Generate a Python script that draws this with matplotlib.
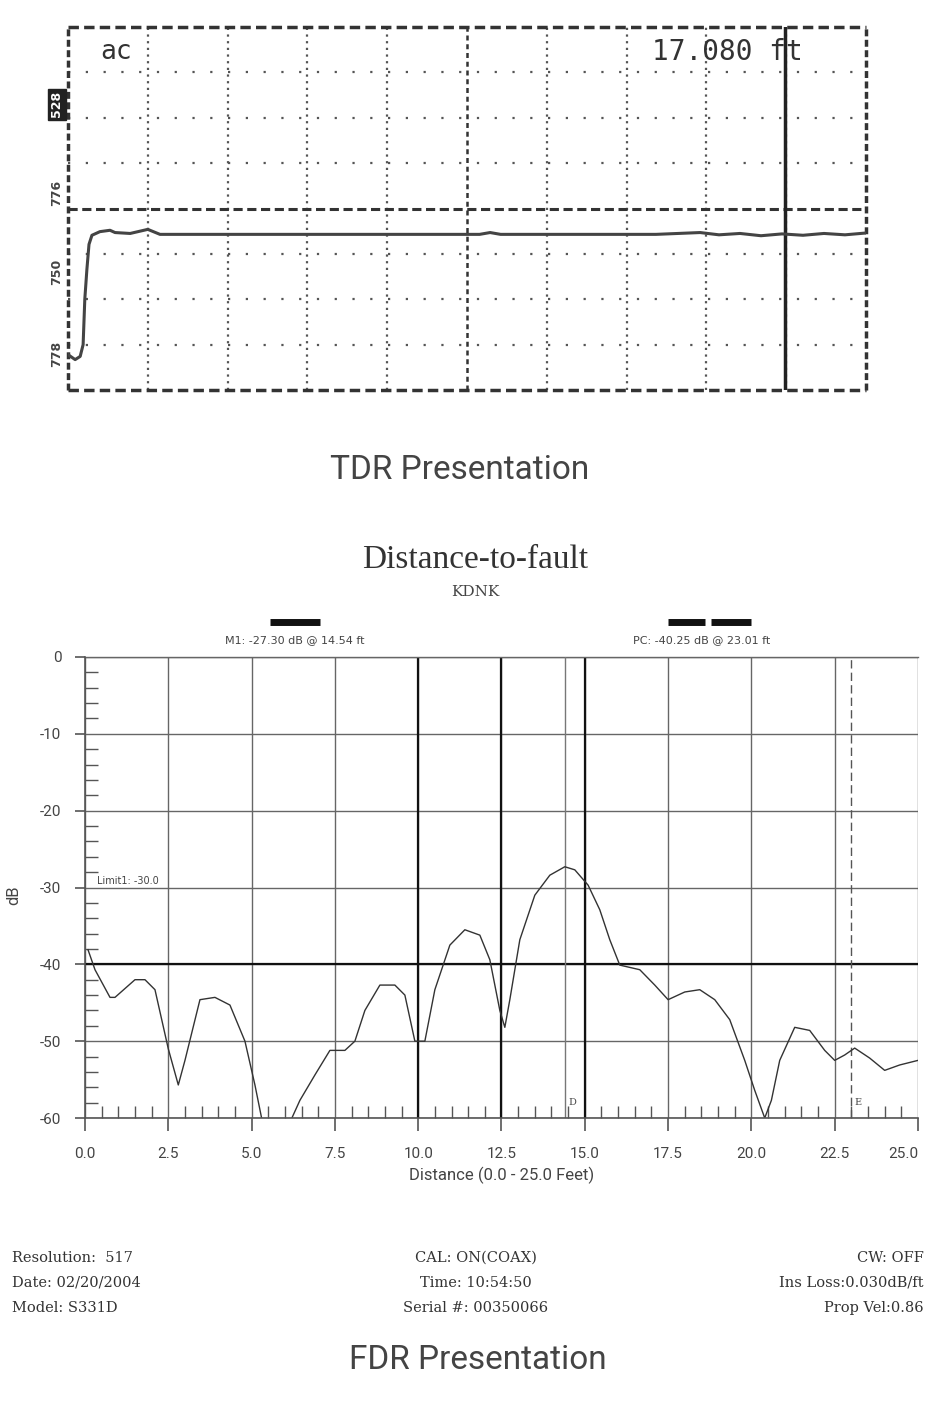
import numpy as np
import matplotlib
matplotlib.use("Agg")
import matplotlib.pyplot as plt
import matplotlib.transforms as mtrans

plt.rcParams["axes.unicode_minus"] = False

# ---- TDR trace (ft, milli-rho) ----
tdr_x = [0.0, 0.17, 0.29, 0.36, 0.40, 0.45, 0.50, 0.57, 0.76, 1.0, 1.12, 1.48, 1.9, 2.19,
         4.0, 6.0, 8.0, 9.8, 10.05, 10.3, 12.0, 14.0, 15.05, 15.5, 16.0, 16.5, 17.0,
         17.5, 18.0, 18.5, 19.0]
tdr_y = [-322, -333, -326, -300, -200, -134, -79, -59, -51, -48, -53, -55, -46, -57,
         -57, -57, -57, -57, -53, -57, -57, -57, -53, -58, -55, -60, -56, -59, -55, -58, -54]
tdr_cursor = 17.080
tdr_xmax = 19.0

# ---- FDR trace (ft, dB) ----
fdr_x = [0.09, 0.3, 0.75, 0.9, 1.5, 1.8, 2.1, 2.5, 2.8, 3.0, 3.45, 3.9, 4.35, 4.8, 5.1,
         5.3, 5.6, 6.0, 6.45, 6.9, 7.35, 7.8, 8.1, 8.4, 8.85, 9.3, 9.6, 9.9, 10.2, 10.5,
         10.95, 11.4, 11.85, 12.15, 12.45, 12.6, 12.75, 13.05, 13.5, 13.95, 14.4, 14.7,
         15.1, 15.45, 15.75, 16.05, 16.65, 17.1, 17.5, 18.0, 18.45, 18.9, 19.35, 19.8,
         20.1, 20.4, 20.6, 20.85, 21.3, 21.75, 22.2, 22.5, 22.8, 23.1, 23.55, 24.0,
         24.45, 25.0]
fdr_y = [-38.1, -40.7, -44.3, -44.3, -42.0, -42.0, -43.3, -51.0, -55.7, -52.5, -44.6,
         -44.3, -45.3, -50.0, -55.7, -60.0, -62.0, -62.0, -57.7, -54.4, -51.2, -51.2,
         -50.0, -46.0, -42.7, -42.7, -44.0, -50.0, -50.0, -43.3, -37.5, -35.5, -36.2,
         -39.4, -46.0, -48.2, -44.6, -36.8, -31.0, -28.4, -27.3, -27.7, -29.7, -32.9,
         -36.8, -40.1, -40.7, -42.7, -44.6, -43.6, -43.3, -44.6, -47.2, -52.5, -56.4,
         -60.0, -57.7, -52.5, -48.2, -48.6, -51.2, -52.5, -51.8, -50.9, -52.2, -53.8,
         -53.1, -52.5]
fdr_xticks = [0.0, 2.5, 5.0, 7.5, 10.0, 12.5, 15.0, 17.5, 20.0, 22.5, 25.0]
fdr_yticks = [0, -10, -20, -30, -40, -50, -60]
limit_db = -40
marker_d = 14.4
marker_e = 23.0
bold_lines = [10.0, 12.5, 15.0]

left_info = ["Resolution:  517", "Date: 02/20/2004", "Model: S331D"]
mid_info = ["CAL: ON(COAX)", "Time: 10:54:50", "Serial #: 00350066"]
right_info = ["CW: OFF", "Ins Loss:0.030dB/ft", "Prop Vel:0.86"]

W, H = 928, 1407
fig = plt.figure(figsize=(W / 100, H / 100), dpi=100)


def fx(px):
    return px / W


def fy(py):
    return 1 - py / H


# ================= TDR =================
ax1 = fig.add_axes([fx(68), fy(390), fx(866) - fx(68), fy(27) - fy(390)])
ax1.set_xlim(0, tdr_xmax)
ax1.set_ylim(-400, 400)
for s in ax1.spines.values():
    s.set_visible(False)
ax1.set_xticks([])
ax1.set_yticks([])
step = tdr_xmax / 10
for i in range(1, 10):
    if i == 5:
        ax1.axvline(i * step, color="#333", lw=1.8, ls=(0, (2, 1.5)))
    else:
        ax1.axvline(i * step, color="#555", lw=1.6, ls=(0, (1, 2)))
for j in range(-3, 4):
    if j == 0:
        ax1.axhline(0, color="#333", lw=2.2, ls=(0, (3, 1.5)))
    else:
        ax1.axhline(j * 100, color="#555", lw=1.6, ls=(0, (1, 7)))
for v in (-400, 400):
    ax1.axhline(v, color="#333", lw=2.5, ls=(0, (3, 1.5)), clip_on=False)
for v in (0, tdr_xmax):
    ax1.axvline(v, color="#333", lw=2.5, ls=(0, (2, 1)), clip_on=False)
ax1.axvline(tdr_cursor, color="#222", lw=2.5)
ax1.plot(tdr_x, tdr_y, color="#444", lw=2.2)
ax1.text(0.04, 0.93, "ac", transform=ax1.transAxes, fontsize=19, color="#333",
         family="DejaVu Sans Mono", va="center")
ax1.text(0.732, 0.93, f"{tdr_cursor:.3f} ft", transform=ax1.transAxes, fontsize=20,
         color="#333", family="DejaVu Sans Mono", va="center")
yt = mtrans.blended_transform_factory(ax1.transAxes, ax1.transData)
for yy, lab in [(-320, "778"), (-140, "750"), (35, "776")]:
    ax1.text(-0.014, yy, lab, transform=yt, rotation=90, fontsize=9, color="#444",
             ha="center", va="center", weight="bold")
ax1.text(-0.014, 230, "528", transform=yt, rotation=90, fontsize=9, color="white",
         ha="center", va="center", weight="bold",
         bbox=dict(boxstyle="square,pad=0.2", fc="#222", ec="#222"))

fig.text(fx(460), fy(470), "TDR Presentation", ha="center", va="center", fontsize=24,
         color="#444", family="Roboto")

# ================= FDR =================
fig.text(fx(475), fy(560), "Distance-to-fault", ha="center", va="center", fontsize=24,
         color="#333", family="Liberation Serif")
fig.text(fx(475), fy(592), "KDNK", ha="center", va="center", fontsize=11,
         color="#444", family="DejaVu Serif")

ax2 = fig.add_axes([fx(85), fy(1118), fx(918) - fx(85), fy(657) - fy(1118)])
ax2.set_xlim(0, 25)
ax2.set_ylim(-60, 0)
for k in ("top", "right"):
    ax2.spines[k].set_visible(False)
for k in ("left", "bottom"):
    ax2.spines[k].set_color("#555")
    ax2.spines[k].set_linewidth(1.2)
ax2.set_xticks(fdr_xticks)
ax2.set_xticklabels([f"{v:.1f}" for v in fdr_xticks])
ax2.set_yticks(fdr_yticks)
ax2.set_xticks(np.arange(0, 25.01, 0.5), minor=True)
ax2.set_yticks(np.arange(-60, 0.01, 2), minor=True)
ax2.tick_params(which="major", direction="out", length=7, color="#555", width=1.2,
                labelsize=11, labelcolor="#444")
ax2.tick_params(which="minor", direction="in", length=9, color="#555", width=1.0)
ax2.tick_params(axis="x", which="major", length=9, pad=12)
ax2.tick_params(axis="y", which="major", pad=10)
for t in ax2.get_xticklabels() + ax2.get_yticklabels():
    t.set_family("Roboto")
ax2.get_xticklabels()[-1].set_horizontalalignment("right")
ax2.grid(True, which="major", color="#666", lw=1.0)
for b in bold_lines:
    ax2.axvline(b, color="#111", lw=1.6)
ax2.axhline(limit_db, color="#111", lw=1.6)
ax2.axhline(0, color="#666", lw=1.0, clip_on=False)
ax2.axvline(marker_d, color="#777", lw=1.0)
ax2.axvline(marker_e, color="#555", lw=1.0, ls=(0, (6, 3)))
ax2.plot(fdr_x, fdr_y, color="#333", lw=1.0)
ax2.text(marker_d + 0.1, -58.3, "D", fontsize=7, color="#444", family="DejaVu Serif")
ax2.text(marker_e + 0.1, -58.3, "E", fontsize=7, color="#444", family="DejaVu Serif")
ax2.text(0.35, -29.8, "Limit1: -30.0", fontsize=7, color="#444", va="bottom")

ax2.set_xlabel("Distance (0.0 - 25.0 Feet)", fontsize=12, color="#444",
               family="Roboto", labelpad=4)
fig.text(fx(14), fy(895), "dB", rotation=90, ha="center", va="center", fontsize=12,
         color="#444", family="Roboto")

bt = mtrans.blended_transform_factory(ax2.transData, ax2.transAxes)
ax2.plot([5.55, 7.05], [1.076, 1.076], color="#111", lw=5, transform=bt, clip_on=False,
         solid_capstyle="butt")
ax2.plot([17.5, 18.6], [1.076, 1.076], color="#111", lw=5, transform=bt, clip_on=False,
         solid_capstyle="butt")
ax2.plot([18.8, 20.0], [1.076, 1.076], color="#111", lw=5, transform=bt, clip_on=False,
         solid_capstyle="butt")
ax2.text(6.3, 1.025, "M1: -27.30 dB @ 14.54 ft", transform=bt, fontsize=8, ha="center",
         va="bottom", color="#444")
ax2.text(18.5, 1.025, "PC: -40.25 dB @ 23.01 ft", transform=bt, fontsize=8, ha="center",
         va="bottom", color="#444")

# footer
for i, (a, b, c) in enumerate(zip(left_info, mid_info, right_info)):
    yy = fy(1258 + i * 25)
    fig.text(fx(12), yy, a, ha="left", va="center", fontsize=10.5, color="#333",
             family="DejaVu Serif")
    fig.text(fx(476), yy, b, ha="center", va="center", fontsize=10.5, color="#333",
             family="DejaVu Serif")
    fig.text(fx(924), yy, c, ha="right", va="center", fontsize=10.5, color="#333",
             family="DejaVu Serif")

fig.text(fx(478), fy(1360), "FDR Presentation", ha="center", va="center", fontsize=24,
         color="#444", family="Roboto")

fig.savefig("out.png", dpi=100)
